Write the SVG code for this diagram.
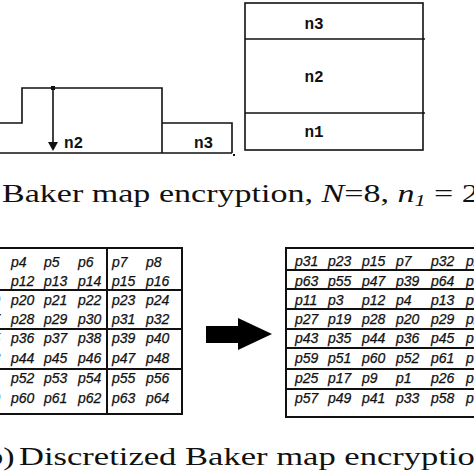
<svg xmlns="http://www.w3.org/2000/svg" width="474" height="474" viewBox="0 0 474 474">
<style>
.ln{stroke:#111;stroke-width:2;fill:none}
.thin{stroke:#111;stroke-width:1.6;fill:none}
.mono{font-family:"Liberation Mono","DejaVu Sans Mono",monospace;font-size:16px;font-weight:bold;fill:#111}
.p{font-family:"Liberation Sans",Arial,sans-serif;font-size:14px;font-style:italic;fill:#111;stroke:#111;stroke-width:0.25}
.cap{font-family:"Liberation Serif","Times New Roman",serif;font-size:26px;fill:#111}
</style>
<rect width="474" height="474" fill="#fff"/>

<g id="baker-continuous-before">
<path class="thin" d="M0 123 H22 V88 H162 V153 M162 123 H232 V153 M0 153 H232"/>
<line class="thin" x1="53" y1="88" x2="53" y2="143"/>
<polygon points="48,142 58,142 53,151" fill="#111"/>
<rect x="51" y="86" width="4" height="4" fill="#111"/>
<rect x="233" y="154" width="2" height="2" fill="#111"/>
<text class="mono" x="64" y="148">n2</text>
<text class="mono" x="194" y="148">n3</text>
</g>

<g id="baker-continuous-after">
<rect class="thin" x="245" y="3" width="178" height="147"/>
<line class="thin" x1="245" y1="39" x2="425" y2="39"/>
<line class="thin" x1="245" y1="113" x2="425" y2="113"/>
<text class="mono" x="314" y="29" text-anchor="middle">n3</text>
<text class="mono" x="314" y="82" text-anchor="middle">n2</text>
<text class="mono" x="314" y="137" text-anchor="middle">n1</text>
</g>

<text class="cap" transform="translate(2,202) scale(1.31,1)" x="0" y="0">Baker map encryption, <tspan font-style="italic">N</tspan>=8, <tspan font-style="italic">n</tspan><tspan font-style="italic" font-size="17" dy="4">1</tspan><tspan dy="-4"> = 2)</tspan></text>

<g id="grid-before">
<path class="ln" d="M0 248 H182 V414 H0 M107 248 V414 M0 290 H182 M0 329 H182 M0 369 H182"/>
<g class="p">
<text y="267"><tspan x="-23">p3</tspan><tspan x="11">p4</tspan><tspan x="44">p5</tspan><tspan x="78">p6</tspan><tspan x="112">p7</tspan><tspan x="146">p8</tspan></text>
<text y="286"><tspan x="-23">p11</tspan><tspan x="11">p12</tspan><tspan x="44">p13</tspan><tspan x="78">p14</tspan><tspan x="112">p15</tspan><tspan x="146">p16</tspan></text>
<text y="305"><tspan x="-23">p19</tspan><tspan x="11">p20</tspan><tspan x="44">p21</tspan><tspan x="78">p22</tspan><tspan x="112">p23</tspan><tspan x="146">p24</tspan></text>
<text y="324"><tspan x="-23">p27</tspan><tspan x="11">p28</tspan><tspan x="44">p29</tspan><tspan x="78">p30</tspan><tspan x="112">p31</tspan><tspan x="146">p32</tspan></text>
<text y="343"><tspan x="-23">p35</tspan><tspan x="11">p36</tspan><tspan x="44">p37</tspan><tspan x="78">p38</tspan><tspan x="112">p39</tspan><tspan x="146">p40</tspan></text>
<text y="363"><tspan x="-23">p43</tspan><tspan x="11">p44</tspan><tspan x="44">p45</tspan><tspan x="78">p46</tspan><tspan x="112">p47</tspan><tspan x="146">p48</tspan></text>
<text y="383"><tspan x="-23">p51</tspan><tspan x="11">p52</tspan><tspan x="44">p53</tspan><tspan x="78">p54</tspan><tspan x="112">p55</tspan><tspan x="146">p56</tspan></text>
<text y="403"><tspan x="-23">p59</tspan><tspan x="11">p60</tspan><tspan x="44">p61</tspan><tspan x="78">p62</tspan><tspan x="112">p63</tspan><tspan x="146">p64</tspan></text>
</g>
</g>

<g id="connectors">
<polygon points="206,326 238,326 238,318 272,334 238,350 238,343 206,343" fill="#000"/>
</g>

<g id="grid-after">
<path class="ln" d="M476 248 H286 V417 H476 M286 270 H476 M286 289 H476 M286 309 H476 M286 329 H476 M286 348 H476 M286 369 H476 M286 389 H476"/>
<g class="p">
<text y="266"><tspan x="295">p31</tspan><tspan x="328">p23</tspan><tspan x="362">p15</tspan><tspan x="396">p7</tspan><tspan x="431">p32</tspan><tspan x="466">p24</tspan></text>
<text y="286"><tspan x="295">p63</tspan><tspan x="328">p55</tspan><tspan x="362">p47</tspan><tspan x="396">p39</tspan><tspan x="431">p64</tspan><tspan x="466">p56</tspan></text>
<text y="305"><tspan x="295">p11</tspan><tspan x="328">p3</tspan><tspan x="362">p12</tspan><tspan x="396">p4</tspan><tspan x="431">p13</tspan><tspan x="466">p5</tspan></text>
<text y="324"><tspan x="295">p27</tspan><tspan x="328">p19</tspan><tspan x="362">p28</tspan><tspan x="396">p20</tspan><tspan x="431">p29</tspan><tspan x="466">p21</tspan></text>
<text y="343"><tspan x="295">p43</tspan><tspan x="328">p35</tspan><tspan x="362">p44</tspan><tspan x="396">p36</tspan><tspan x="431">p45</tspan><tspan x="466">p37</tspan></text>
<text y="363"><tspan x="295">p59</tspan><tspan x="328">p51</tspan><tspan x="362">p60</tspan><tspan x="396">p52</tspan><tspan x="431">p61</tspan><tspan x="466">p53</tspan></text>
<text y="383"><tspan x="295">p25</tspan><tspan x="328">p17</tspan><tspan x="362">p9</tspan><tspan x="396">p1</tspan><tspan x="431">p26</tspan><tspan x="466">p18</tspan></text>
<text y="403"><tspan x="295">p57</tspan><tspan x="328">p49</tspan><tspan x="362">p41</tspan><tspan x="396">p33</tspan><tspan x="431">p58</tspan><tspan x="466">p50</tspan></text>
</g>
</g>

<text class="cap" transform="translate(-25,465) scale(1.31,1)" x="0" y="0">(b)</text>
<text class="cap" transform="translate(19,465) scale(1.33,1)" x="0" y="0">Discretized Baker map encryption</text>
</svg>
